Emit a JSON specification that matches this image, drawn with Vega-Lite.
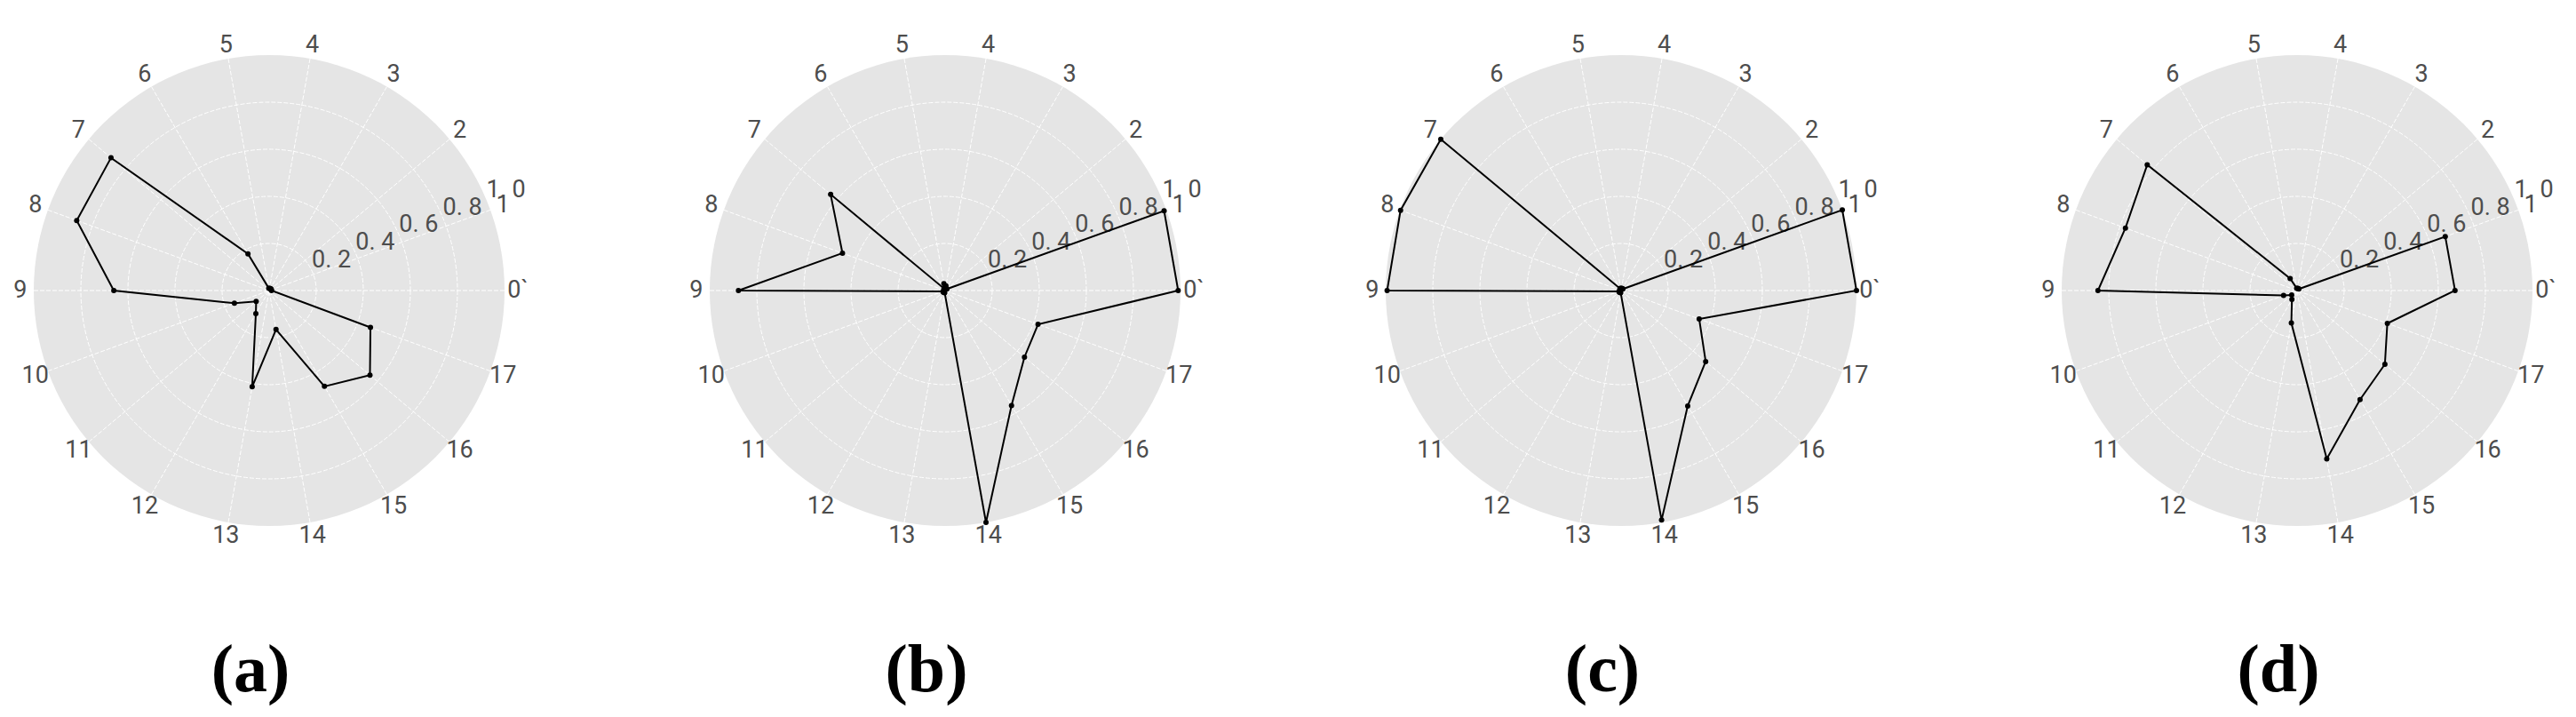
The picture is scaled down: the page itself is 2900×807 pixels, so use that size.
{
  "$schema": "https://vega.github.io/schema/vega-lite/v6.json",
  "background": "#ffffff",
  "padding": {"left": 15, "top": 37, "right": 5, "bottom": 5},
  "bounds": "flush",
  "spacing": 231,
  "config": {"view": {"stroke": null}},
  "datasets": {
    "disk": [{"v": 1}],
    "rings": [{"v": 0.2}, {"v": 0.4}, {"v": 0.6}, {"v": 0.8}],
    "ticks": [{"v": 0.2, "t": "0. 2"}, {"v": 0.4, "t": "0. 4"}, {"v": 0.6, "t": "0. 6"}, {"v": 0.8, "t": "0. 8"}, {"v": 1.0, "t": "1. 0"}],
    "cats": [{"c": 0, "t": "0`"}, {"c": 1, "t": "1"}, {"c": 2, "t": "2"}, {"c": 3, "t": "3"}, {"c": 4, "t": "4"}, {"c": 5, "t": "5"}, {"c": 6, "t": "6"}, {"c": 7, "t": "7"}, {"c": 8, "t": "8"}, {"c": 9, "t": "9"}, {"c": 10, "t": "10"}, {"c": 11, "t": "11"}, {"c": 12, "t": "12"}, {"c": 13, "t": "13"}, {"c": 14, "t": "14"}, {"c": 15, "t": "15"}, {"c": 16, "t": "16"}, {"c": 17, "t": "17"}],
    "vals": [
      {"p": "a", "c": 0, "v": 0.01}, {"p": "a", "c": 1, "v": 0.01}, {"p": "a", "c": 2, "v": 0.01}, {"p": "a", "c": 3, "v": 0.01}, {"p": "a", "c": 4, "v": 0.01}, {"p": "a", "c": 5, "v": 0.01}, {"p": "a", "c": 6, "v": 0.18}, {"p": "a", "c": 7, "v": 0.877}, {"p": "a", "c": 8, "v": 0.87}, {"p": "a", "c": 9, "v": 0.66}, {"p": "a", "c": 10, "v": 0.157}, {"p": "a", "c": 11, "v": 0.072}, {"p": "a", "c": 12, "v": 0.113}, {"p": "a", "c": 13, "v": 0.415}, {"p": "a", "c": 14, "v": 0.168}, {"p": "a", "c": 15, "v": 0.47}, {"p": "a", "c": 16, "v": 0.559}, {"p": "a", "c": 17, "v": 0.458},
      {"p": "b", "c": 0, "v": 0.99}, {"p": "b", "c": 1, "v": 0.99}, {"p": "b", "c": 2, "v": 0.01}, {"p": "b", "c": 3, "v": 0.01}, {"p": "b", "c": 4, "v": 0.02}, {"p": "b", "c": 5, "v": 0.03}, {"p": "b", "c": 6, "v": 0.01}, {"p": "b", "c": 7, "v": 0.635}, {"p": "b", "c": 8, "v": 0.464}, {"p": "b", "c": 9, "v": 0.878}, {"p": "b", "c": 10, "v": 0.01}, {"p": "b", "c": 11, "v": 0.01}, {"p": "b", "c": 12, "v": 0.01}, {"p": "b", "c": 13, "v": 0.01}, {"p": "b", "c": 14, "v": 1.0}, {"p": "b", "c": 15, "v": 0.564}, {"p": "b", "c": 16, "v": 0.44}, {"p": "b", "c": 17, "v": 0.42},
      {"p": "c", "c": 0, "v": 1.0}, {"p": "c", "c": 1, "v": 1.0}, {"p": "c", "c": 2, "v": 0.01}, {"p": "c", "c": 3, "v": 0.01}, {"p": "c", "c": 4, "v": 0.01}, {"p": "c", "c": 5, "v": 0.01}, {"p": "c", "c": 6, "v": 0.01}, {"p": "c", "c": 7, "v": 1.0}, {"p": "c", "c": 8, "v": 0.997}, {"p": "c", "c": 9, "v": 0.994}, {"p": "c", "c": 10, "v": 0.01}, {"p": "c", "c": 11, "v": 0.01}, {"p": "c", "c": 12, "v": 0.01}, {"p": "c", "c": 13, "v": 0.01}, {"p": "c", "c": 14, "v": 0.99}, {"p": "c", "c": 15, "v": 0.566}, {"p": "c", "c": 16, "v": 0.469}, {"p": "c", "c": 17, "v": 0.353},
      {"p": "d", "c": 0, "v": 0.671}, {"p": "d", "c": 1, "v": 0.67}, {"p": "d", "c": 2, "v": 0.01}, {"p": "d", "c": 3, "v": 0.01}, {"p": "d", "c": 4, "v": 0.01}, {"p": "d", "c": 5, "v": 0.01}, {"p": "d", "c": 6, "v": 0.059}, {"p": "d", "c": 7, "v": 0.831}, {"p": "d", "c": 8, "v": 0.776}, {"p": "d", "c": 9, "v": 0.846}, {"p": "d", "c": 10, "v": 0.061}, {"p": "d", "c": 11, "v": 0.03}, {"p": "d", "c": 12, "v": 0.044}, {"p": "d", "c": 13, "v": 0.14}, {"p": "d", "c": 14, "v": 0.726}, {"p": "d", "c": 15, "v": 0.535}, {"p": "d", "c": 16, "v": 0.487}, {"p": "d", "c": 17, "v": 0.408}
    ]
  },
  "hconcat": [
    {
      "width": 530, "height": 530,
      "title": {"text": "(a)", "orient": "bottom", "frame": "group", "anchor": "middle", "offset": 162, "baseline": "alphabetic", "dx": -21, "font": "Liberation Serif", "fontSize": 76, "fontWeight": "bold", "color": "#000000"},
      "layer": [
        {"data": {"name": "disk"}, "mark": {"type": "point", "shape": "circle", "filled": true, "color": "#e5e5e5", "opacity": 1}, "encoding": {"x": {"datum": 0, "type": "quantitative", "scale": {"domain": [-1, 1], "nice": false, "zero": false}, "axis": null}, "y": {"datum": 0, "type": "quantitative", "scale": {"domain": [-1, 1], "nice": false, "zero": false}, "axis": null}, "size": {"field": "v", "type": "quantitative", "scale": {"type": "pow", "exponent": 2, "domain": [0, 1], "range": [0, 280900], "zero": true}, "legend": null}}},
        {"data": {"name": "rings"}, "mark": {"type": "point", "shape": "circle", "filled": false, "color": "#ffffff", "opacity": 1, "strokeWidth": 1, "strokeDash": [5, 2]}, "encoding": {"x": {"datum": 0, "type": "quantitative"}, "y": {"datum": 0, "type": "quantitative"}, "size": {"field": "v", "type": "quantitative", "legend": null}}},
        {"data": {"name": "cats"}, "transform": [{"calculate": "cos(datum.c * PI / 9)", "as": "sx"}, {"calculate": "sin(datum.c * PI / 9)", "as": "sy"}], "mark": {"type": "rule", "color": "#ffffff", "strokeWidth": 1, "strokeDash": [5, 2]}, "encoding": {"x": {"field": "sx", "type": "quantitative"}, "y": {"field": "sy", "type": "quantitative"}, "x2": {"datum": 0}, "y2": {"datum": 0}}},
        {"data": {"name": "cats"}, "transform": [{"calculate": "1.057 * cos(datum.c * PI / 9)", "as": "lx"}, {"calculate": "1.057 * sin(datum.c * PI / 9)", "as": "ly"}], "mark": {"type": "text", "font": "Roboto", "fontSize": 27, "color": "#4d4d4d", "align": "center", "baseline": "middle"}, "encoding": {"x": {"field": "lx", "type": "quantitative"}, "y": {"field": "ly", "type": "quantitative"}, "text": {"field": "t"}}},
        {"data": {"name": "ticks"}, "transform": [{"calculate": "datum.v * cos(0.384)", "as": "lx"}, {"calculate": "datum.v * sin(0.384)", "as": "ly"}], "mark": {"type": "text", "font": "Roboto", "fontSize": 27, "color": "#4d4d4d", "align": "center", "baseline": "middle", "dx": 21, "dy": -14}, "encoding": {"x": {"field": "lx", "type": "quantitative"}, "y": {"field": "ly", "type": "quantitative"}, "text": {"field": "t"}}},
        {"data": {"name": "vals"}, "transform": [{"filter": "datum.p == 'a'"}, {"calculate": "datum.v * cos(datum.c * PI / 9)", "as": "px"}, {"calculate": "datum.v * sin(datum.c * PI / 9)", "as": "py"}],
         "layer": [
           {"mark": {"type": "line", "interpolate": "linear-closed", "color": "#000000", "strokeWidth": 2}, "encoding": {"x": {"field": "px", "type": "quantitative"}, "y": {"field": "py", "type": "quantitative"}, "order": {"field": "c", "type": "quantitative"}}},
           {"mark": {"type": "point", "filled": true, "color": "#000000", "opacity": 1, "size": 36}, "encoding": {"x": {"field": "px", "type": "quantitative"}, "y": {"field": "py", "type": "quantitative"}}}
         ]}
      ]
    },
    {
      "width": 530, "height": 530,
      "title": {"text": "(b)", "orient": "bottom", "frame": "group", "anchor": "middle", "offset": 162, "baseline": "alphabetic", "dx": -21, "font": "Liberation Serif", "fontSize": 76, "fontWeight": "bold", "color": "#000000"},
      "layer": [
        {"data": {"name": "disk"}, "mark": {"type": "point", "shape": "circle", "filled": true, "color": "#e5e5e5", "opacity": 1}, "encoding": {"x": {"datum": 0, "type": "quantitative", "scale": {"domain": [-1, 1], "nice": false, "zero": false}, "axis": null}, "y": {"datum": 0, "type": "quantitative", "scale": {"domain": [-1, 1], "nice": false, "zero": false}, "axis": null}, "size": {"field": "v", "type": "quantitative", "scale": {"type": "pow", "exponent": 2, "domain": [0, 1], "range": [0, 280900], "zero": true}, "legend": null}}},
        {"data": {"name": "rings"}, "mark": {"type": "point", "shape": "circle", "filled": false, "color": "#ffffff", "opacity": 1, "strokeWidth": 1, "strokeDash": [5, 2]}, "encoding": {"x": {"datum": 0, "type": "quantitative"}, "y": {"datum": 0, "type": "quantitative"}, "size": {"field": "v", "type": "quantitative", "legend": null}}},
        {"data": {"name": "cats"}, "transform": [{"calculate": "cos(datum.c * PI / 9)", "as": "sx"}, {"calculate": "sin(datum.c * PI / 9)", "as": "sy"}], "mark": {"type": "rule", "color": "#ffffff", "strokeWidth": 1, "strokeDash": [5, 2]}, "encoding": {"x": {"field": "sx", "type": "quantitative"}, "y": {"field": "sy", "type": "quantitative"}, "x2": {"datum": 0}, "y2": {"datum": 0}}},
        {"data": {"name": "cats"}, "transform": [{"calculate": "1.057 * cos(datum.c * PI / 9)", "as": "lx"}, {"calculate": "1.057 * sin(datum.c * PI / 9)", "as": "ly"}], "mark": {"type": "text", "font": "Roboto", "fontSize": 27, "color": "#4d4d4d", "align": "center", "baseline": "middle"}, "encoding": {"x": {"field": "lx", "type": "quantitative"}, "y": {"field": "ly", "type": "quantitative"}, "text": {"field": "t"}}},
        {"data": {"name": "ticks"}, "transform": [{"calculate": "datum.v * cos(0.384)", "as": "lx"}, {"calculate": "datum.v * sin(0.384)", "as": "ly"}], "mark": {"type": "text", "font": "Roboto", "fontSize": 27, "color": "#4d4d4d", "align": "center", "baseline": "middle", "dx": 21, "dy": -14}, "encoding": {"x": {"field": "lx", "type": "quantitative"}, "y": {"field": "ly", "type": "quantitative"}, "text": {"field": "t"}}},
        {"data": {"name": "vals"}, "transform": [{"filter": "datum.p == 'b'"}, {"calculate": "datum.v * cos(datum.c * PI / 9)", "as": "px"}, {"calculate": "datum.v * sin(datum.c * PI / 9)", "as": "py"}],
         "layer": [
           {"mark": {"type": "line", "interpolate": "linear-closed", "color": "#000000", "strokeWidth": 2}, "encoding": {"x": {"field": "px", "type": "quantitative"}, "y": {"field": "py", "type": "quantitative"}, "order": {"field": "c", "type": "quantitative"}}},
           {"mark": {"type": "point", "filled": true, "color": "#000000", "opacity": 1, "size": 36}, "encoding": {"x": {"field": "px", "type": "quantitative"}, "y": {"field": "py", "type": "quantitative"}}}
         ]}
      ]
    },
    {
      "width": 530, "height": 530,
      "title": {"text": "(c)", "orient": "bottom", "frame": "group", "anchor": "middle", "offset": 162, "baseline": "alphabetic", "dx": -21, "font": "Liberation Serif", "fontSize": 76, "fontWeight": "bold", "color": "#000000"},
      "layer": [
        {"data": {"name": "disk"}, "mark": {"type": "point", "shape": "circle", "filled": true, "color": "#e5e5e5", "opacity": 1}, "encoding": {"x": {"datum": 0, "type": "quantitative", "scale": {"domain": [-1, 1], "nice": false, "zero": false}, "axis": null}, "y": {"datum": 0, "type": "quantitative", "scale": {"domain": [-1, 1], "nice": false, "zero": false}, "axis": null}, "size": {"field": "v", "type": "quantitative", "scale": {"type": "pow", "exponent": 2, "domain": [0, 1], "range": [0, 280900], "zero": true}, "legend": null}}},
        {"data": {"name": "rings"}, "mark": {"type": "point", "shape": "circle", "filled": false, "color": "#ffffff", "opacity": 1, "strokeWidth": 1, "strokeDash": [5, 2]}, "encoding": {"x": {"datum": 0, "type": "quantitative"}, "y": {"datum": 0, "type": "quantitative"}, "size": {"field": "v", "type": "quantitative", "legend": null}}},
        {"data": {"name": "cats"}, "transform": [{"calculate": "cos(datum.c * PI / 9)", "as": "sx"}, {"calculate": "sin(datum.c * PI / 9)", "as": "sy"}], "mark": {"type": "rule", "color": "#ffffff", "strokeWidth": 1, "strokeDash": [5, 2]}, "encoding": {"x": {"field": "sx", "type": "quantitative"}, "y": {"field": "sy", "type": "quantitative"}, "x2": {"datum": 0}, "y2": {"datum": 0}}},
        {"data": {"name": "cats"}, "transform": [{"calculate": "1.057 * cos(datum.c * PI / 9)", "as": "lx"}, {"calculate": "1.057 * sin(datum.c * PI / 9)", "as": "ly"}], "mark": {"type": "text", "font": "Roboto", "fontSize": 27, "color": "#4d4d4d", "align": "center", "baseline": "middle"}, "encoding": {"x": {"field": "lx", "type": "quantitative"}, "y": {"field": "ly", "type": "quantitative"}, "text": {"field": "t"}}},
        {"data": {"name": "ticks"}, "transform": [{"calculate": "datum.v * cos(0.384)", "as": "lx"}, {"calculate": "datum.v * sin(0.384)", "as": "ly"}], "mark": {"type": "text", "font": "Roboto", "fontSize": 27, "color": "#4d4d4d", "align": "center", "baseline": "middle", "dx": 21, "dy": -14}, "encoding": {"x": {"field": "lx", "type": "quantitative"}, "y": {"field": "ly", "type": "quantitative"}, "text": {"field": "t"}}},
        {"data": {"name": "vals"}, "transform": [{"filter": "datum.p == 'c'"}, {"calculate": "datum.v * cos(datum.c * PI / 9)", "as": "px"}, {"calculate": "datum.v * sin(datum.c * PI / 9)", "as": "py"}],
         "layer": [
           {"mark": {"type": "line", "interpolate": "linear-closed", "color": "#000000", "strokeWidth": 2}, "encoding": {"x": {"field": "px", "type": "quantitative"}, "y": {"field": "py", "type": "quantitative"}, "order": {"field": "c", "type": "quantitative"}}},
           {"mark": {"type": "point", "filled": true, "color": "#000000", "opacity": 1, "size": 36}, "encoding": {"x": {"field": "px", "type": "quantitative"}, "y": {"field": "py", "type": "quantitative"}}}
         ]}
      ]
    },
    {
      "width": 530, "height": 530,
      "title": {"text": "(d)", "orient": "bottom", "frame": "group", "anchor": "middle", "offset": 162, "baseline": "alphabetic", "dx": -21, "font": "Liberation Serif", "fontSize": 76, "fontWeight": "bold", "color": "#000000"},
      "layer": [
        {"data": {"name": "disk"}, "mark": {"type": "point", "shape": "circle", "filled": true, "color": "#e5e5e5", "opacity": 1}, "encoding": {"x": {"datum": 0, "type": "quantitative", "scale": {"domain": [-1, 1], "nice": false, "zero": false}, "axis": null}, "y": {"datum": 0, "type": "quantitative", "scale": {"domain": [-1, 1], "nice": false, "zero": false}, "axis": null}, "size": {"field": "v", "type": "quantitative", "scale": {"type": "pow", "exponent": 2, "domain": [0, 1], "range": [0, 280900], "zero": true}, "legend": null}}},
        {"data": {"name": "rings"}, "mark": {"type": "point", "shape": "circle", "filled": false, "color": "#ffffff", "opacity": 1, "strokeWidth": 1, "strokeDash": [5, 2]}, "encoding": {"x": {"datum": 0, "type": "quantitative"}, "y": {"datum": 0, "type": "quantitative"}, "size": {"field": "v", "type": "quantitative", "legend": null}}},
        {"data": {"name": "cats"}, "transform": [{"calculate": "cos(datum.c * PI / 9)", "as": "sx"}, {"calculate": "sin(datum.c * PI / 9)", "as": "sy"}], "mark": {"type": "rule", "color": "#ffffff", "strokeWidth": 1, "strokeDash": [5, 2]}, "encoding": {"x": {"field": "sx", "type": "quantitative"}, "y": {"field": "sy", "type": "quantitative"}, "x2": {"datum": 0}, "y2": {"datum": 0}}},
        {"data": {"name": "cats"}, "transform": [{"calculate": "1.057 * cos(datum.c * PI / 9)", "as": "lx"}, {"calculate": "1.057 * sin(datum.c * PI / 9)", "as": "ly"}], "mark": {"type": "text", "font": "Roboto", "fontSize": 27, "color": "#4d4d4d", "align": "center", "baseline": "middle"}, "encoding": {"x": {"field": "lx", "type": "quantitative"}, "y": {"field": "ly", "type": "quantitative"}, "text": {"field": "t"}}},
        {"data": {"name": "ticks"}, "transform": [{"calculate": "datum.v * cos(0.384)", "as": "lx"}, {"calculate": "datum.v * sin(0.384)", "as": "ly"}], "mark": {"type": "text", "font": "Roboto", "fontSize": 27, "color": "#4d4d4d", "align": "center", "baseline": "middle", "dx": 21, "dy": -14}, "encoding": {"x": {"field": "lx", "type": "quantitative"}, "y": {"field": "ly", "type": "quantitative"}, "text": {"field": "t"}}},
        {"data": {"name": "vals"}, "transform": [{"filter": "datum.p == 'd'"}, {"calculate": "datum.v * cos(datum.c * PI / 9)", "as": "px"}, {"calculate": "datum.v * sin(datum.c * PI / 9)", "as": "py"}],
         "layer": [
           {"mark": {"type": "line", "interpolate": "linear-closed", "color": "#000000", "strokeWidth": 2}, "encoding": {"x": {"field": "px", "type": "quantitative"}, "y": {"field": "py", "type": "quantitative"}, "order": {"field": "c", "type": "quantitative"}}},
           {"mark": {"type": "point", "filled": true, "color": "#000000", "opacity": 1, "size": 36}, "encoding": {"x": {"field": "px", "type": "quantitative"}, "y": {"field": "py", "type": "quantitative"}}}
         ]}
      ]
    }
  ]
}
